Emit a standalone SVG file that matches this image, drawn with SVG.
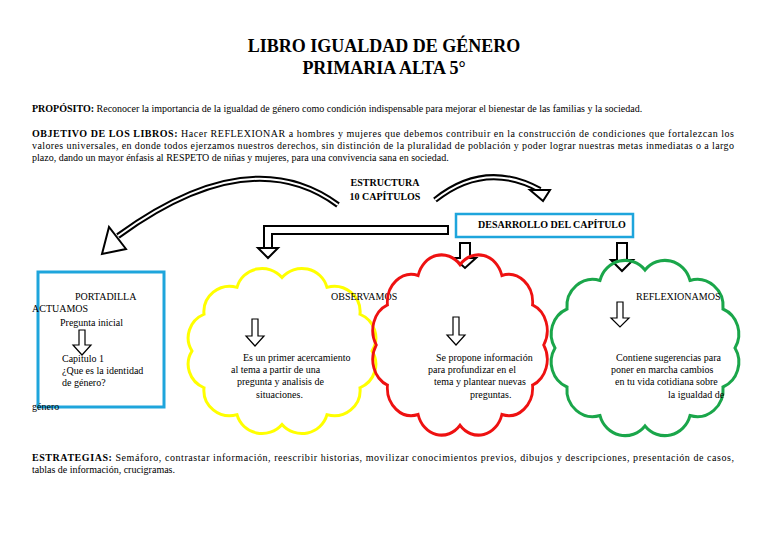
<svg xmlns="http://www.w3.org/2000/svg" width="768" height="543" viewBox="0 0 768 543" font-family="'Liberation Serif','Times New Roman','DejaVu Serif',serif">
<style>
text{font-family:'Liberation Serif','Times New Roman','DejaVu Serif',serif;fill:#000}
.t{font-size:10px}
.b{font-weight:bold}
.cl{fill:none;stroke-width:3;vector-effect:non-scaling-stroke}
.ha{fill:#fff;stroke:#000;stroke-width:1.2}
.hb{fill:#fff;stroke:#000;stroke-width:2}
</style>
<defs>
<path id="cloud" d="M90,0 A26,26 0 0 1 78,37.5 A26,26 0 0 1 45,65 A26,26 0 0 1 0,75 A26,26 0 0 1 -45,65 A26,26 0 0 1 -78,37.5 A26,26 0 0 1 -90,0 A26,26 0 0 1 -78,-37.5 A26,26 0 0 1 -45,-65 A26,26 0 0 1 0,-75 A26,26 0 0 1 45,-65 A26,26 0 0 1 78,-37.5 A26,26 0 0 1 90,0 Z"/>
</defs>
<rect width="768" height="543" fill="#fff"/>
<text x="384" y="52" text-anchor="middle" font-size="18" class="b">LIBRO IGUALDAD DE GÉNERO</text>
<text x="384" y="74" text-anchor="middle" font-size="18" class="b">PRIMARIA ALTA 5°</text>
<text x="32" y="112" class="t"><tspan class="b">PROPÓSITO:</tspan> Reconocer la importancia de la igualdad de género como condición indispensable para mejorar el bienestar de las familias y la sociedad.</text>
<text x="32" y="137" class="t" textLength="702"><tspan class="b">OBJETIVO DE LOS LIBROS:</tspan> Hacer REFLEXIONAR a hombres y mujeres que debemos contribuir en la construcción de condiciones que fortalezcan los</text>
<text x="32" y="149" class="t" textLength="702">valores universales, en donde todos ejerzamos nuestros derechos, sin distinción de la pluralidad de población y poder lograr nuestras metas inmediatas o a largo</text>
<text x="32" y="161" class="t">plazo, dando un mayor énfasis al RESPETO de niñas y mujeres, para una convivencia sana en sociedad.</text>

<g id="estructura"><text x="385" y="186" text-anchor="middle" class="t b">ESTRUCTURA</text><text x="385" y="200" text-anchor="middle" class="t b">10 CAPÍTULOS</text></g>

<g id="connectors">
<path d="M338,205 Q250,140 118,236" fill="none" stroke="#000" stroke-width="6"/>
<path d="M338,205 Q250,140 118,236" fill="none" stroke="#fff" stroke-width="2"/>
<polygon class="hb" points="126,249 109,227 102,254"/>
<path d="M435,200 Q485,160 540,190" fill="none" stroke="#000" stroke-width="6"/>
<path d="M435,200 Q485,160 540,190" fill="none" stroke="#fff" stroke-width="2"/>
<polygon class="hb" points="530,190 550,190 543,201"/>
<path d="M448,226 H264 V248 H272 V234 H448 Z" class="hb"/>
<polygon class="hb" points="258,248 278,248 268,258"/>
<path d="M460,243 H470 V258 H476 L465,268 L454,258 H460 Z" class="hb"/>
<path d="M617,243 H627 V260 H633 L622,271 L611,260 H617 Z" class="hb"/>
<path d="M79,330 H85 V345 H91 L82,355 L73,345 H79 Z" class="ha"/>
<path d="M252,319 H258 V336 H264 L255,346 L246,336 H252 Z" class="ha"/>
<path d="M453,317 H459 V335 H465 L456,345 L447,335 H453 Z" class="ha"/>
<path d="M617,302 H623 V318 H629 L620,327 L611,318 H617 Z" class="ha"/>
</g>

<g id="desarrollo"><rect x="456" y="214" width="177" height="23" fill="none" stroke="#1ea5dc" stroke-width="2.5"/><text x="478" y="228" class="t b">DESARROLLO DEL CAPÍTULO</text></g>

<g id="portadilla">
<rect x="38" y="272" width="126" height="135" fill="none" stroke="#1ea5dc" stroke-width="3"/>
<text x="75" y="300" class="t">PORTADILLA</text>
<text x="32" y="312" class="t">ACTUAMOS</text>
<text x="60" y="326" class="t">Pregunta inicial</text>
<text x="62" y="362" class="t">Capitulo 1</text>
<text x="62" y="374" class="t">¿Que es la identidad</text>
<text x="62" y="386" class="t">de género?</text>
<text x="32" y="410" class="t">género</text>
</g>

<g id="observamos">
<use href="#cloud" transform="translate(282,351) scale(1,0.98)" class="cl" stroke="#ffff00"/>
<text x="331" y="300" class="t">OBSERVAMOS</text>
<text x="243" y="361" class="t">Es un primer acercamiento</text>
<text x="231" y="373" class="t">al tema a partir de una</text>
<text x="237" y="385" class="t">pregunta y analisis de</text>
<text x="256" y="398" class="t">situaciones.</text>
</g>

<g id="profundizamos">
<use href="#cloud" transform="translate(460,345) scale(0.93,1.07)" class="cl" stroke="#ee1111"/>
<text x="436" y="361" class="t">Se propone información</text>
<text x="428" y="373" class="t">para profundizar en el</text>
<text x="434" y="385" class="t">tema y plantear nuevas</text>
<text x="470" y="398" class="t">preguntas.</text>
</g>

<g id="reflexionamos">
<use href="#cloud" transform="translate(645,348) scale(1,1.04)" class="cl" stroke="#1aa64a"/>
<text x="636" y="300" class="t">REFLEXIONAMOS</text>
<text x="616" y="361" class="t">Contiene sugerencias para</text>
<text x="611" y="373" class="t">poner en marcha cambios</text>
<text x="615" y="385" class="t">en tu vida cotidiana sobre</text>
<text x="668" y="398" class="t">la igualdad de</text>
</g>

<text x="32" y="461" class="t" textLength="702"><tspan class="b">ESTRATEGIAS:</tspan> Semáforo, contrastar información, reescribir historias, movilizar conocimientos previos, dibujos y descripciones, presentación de casos,</text>
<text x="32" y="473" class="t">tablas de información, crucigramas.</text>
</svg>
